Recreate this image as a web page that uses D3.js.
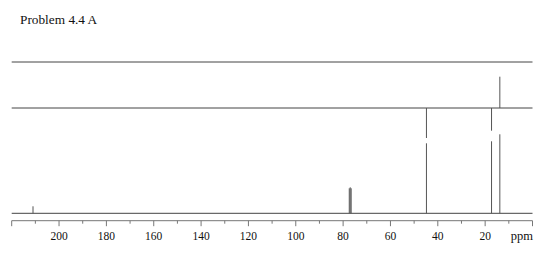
<!DOCTYPE html>
<html>
<head>
<meta charset="utf-8">
<script src="https://cdn.jsdelivr.net/npm/d3@7"></script>
<style>
  body { margin: 0; background: #fff; }
  svg { display: block; }
</style>
</head>
<body>
<div id="chart"></div>
<script>
// 13C spectra of 4-heptanone: broadband (bottom), DEPT-135 (middle), DEPT-90 (top)
const broadbandPpm = [211.0, 77.4, 77.0, 76.6, 44.8, 17.3, 13.8];
const broadbandInt = [7, 25, 26, 25, 70, 72, 79];

const dept135Ppm = [44.8, 17.3, 13.8];
const dept135Int = [-30, -22.7, 31.3];

const dept90Ppm = [];
const dept90Int = [];

const majorTicks = [200, 180, 160, 140, 120, 100, 80, 60, 40, 20];
const minorTicks = [210, 190, 170, 150, 130, 110, 90, 70, 50, 30, 10];
const endTicks = [220, 0];

const width = 557, height = 261;

const x = d3.scaleLinear().domain([220, 0]).range([11.7, 532.5]);
// intensity units -> pixels (shared by all three traces)
const amp = d3.scaleLinear().domain([0, 100]).range([0, -100]);

const spectra = [
  { ppm: broadbandPpm, val: broadbandInt, base: 213.3 },
  { ppm: dept135Ppm, val: dept135Int, base: 108 },
  { ppm: dept90Ppm, val: dept90Int, base: 62 },
];

const svg = d3.select("#chart").append("svg")
  .attr("width", width)
  .attr("height", height)
  .attr("font-family", "'Liberation Serif', 'Times New Roman', serif");

svg.append("text")
  .attr("x", 20)
  .attr("y", 24)
  .attr("font-size", 13.3)
  .attr("fill", "#111")
  .text("Problem 4.4 A");

spectra.forEach((s) => {
  const g = svg.append("g");
  g.append("line")
    .attr("x1", x.range()[0]).attr("x2", x.range()[1])
    .attr("y1", s.base).attr("y2", s.base)
    .attr("stroke", "#444")
    .attr("stroke-width", 1);
  g.selectAll("line.peak")
    .data(s.ppm.map((p, i) => ({ p, v: s.val[i] })))
    .join("line")
    .attr("class", "peak")
    .attr("x1", (d) => x(d.p)).attr("x2", (d) => x(d.p))
    .attr("y1", s.base)
    .attr("y2", (d) => s.base + amp(d.v))
    .attr("stroke", "#555")
    .attr("stroke-width", 1);
});

// axis
const axisY = 220.7;
const ax = svg.append("g").attr("stroke", "#777").attr("stroke-width", 1);
ax.append("line")
  .attr("x1", x.range()[0]).attr("x2", x.range()[1])
  .attr("y1", axisY).attr("y2", axisY);
ax.selectAll("line.maj")
  .data(majorTicks.concat(endTicks))
  .join("line").attr("class", "maj")
  .attr("x1", (d) => x(d)).attr("x2", (d) => x(d))
  .attr("y1", axisY).attr("y2", axisY + 5.5);
ax.selectAll("line.min")
  .data(minorTicks)
  .join("line").attr("class", "min")
  .attr("x1", (d) => x(d)).attr("x2", (d) => x(d))
  .attr("y1", axisY).attr("y2", axisY + 3);

svg.append("g")
  .selectAll("text")
  .data(majorTicks)
  .join("text")
  .attr("x", (d) => x(d))
  .attr("y", 239.5)
  .attr("text-anchor", "middle")
  .attr("font-size", 11.5)
  .attr("fill", "#111")
  .text((d) => d);

svg.append("text")
  .attr("x", x(0) + 0.5)
  .attr("y", 239.5)
  .attr("text-anchor", "end")
  .attr("font-size", 12.5)
  .attr("fill", "#111")
  .text("ppm");
</script>
</body>
</html>
